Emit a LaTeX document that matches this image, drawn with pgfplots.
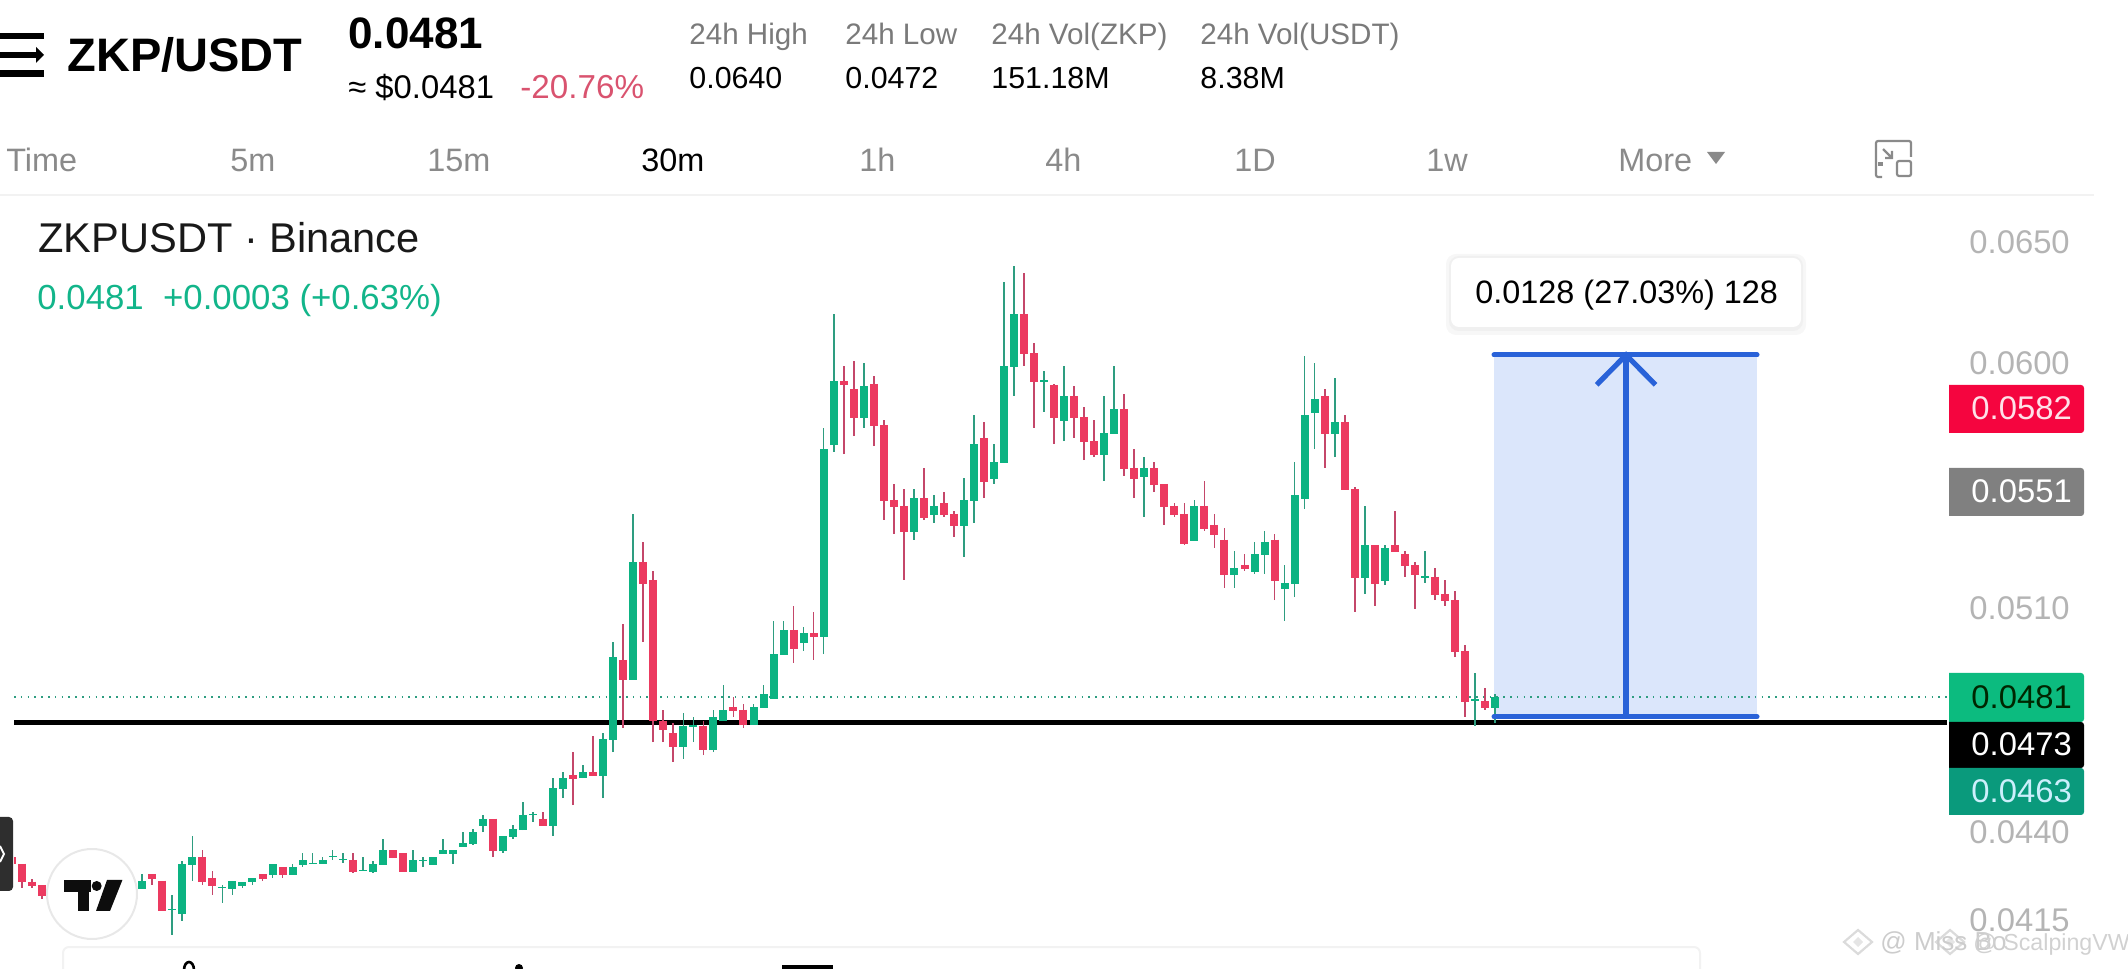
\documentclass[border=0pt]{standalone}
\usepackage{fontspec}
\setmainfont{Liberation Sans}
\usepackage{pgfplots}
\usepackage{pgfplotstable}
\pgfplotsset{compat=1.18}
\definecolor{bodyup}{HTML}{0CB382}
\definecolor{bodydn}{HTML}{EC3A60}
\definecolor{wickup}{HTML}{2E9D80}
\definecolor{wickdn}{HTML}{C4476A}
\definecolor{toolblue}{HTML}{2962D8}
\definecolor{toolfill}{HTML}{DBE6FB}
\definecolor{hdrgray}{HTML}{7A7A7A}
\definecolor{tabgray}{HTML}{8A8A8A}
\definecolor{tickgray}{HTML}{B4B4B4}
\definecolor{lastgreen}{HTML}{12B58A}
\definecolor{chgred}{HTML}{D9536F}
\definecolor{labred}{HTML}{F5053F}
\definecolor{labgreen}{HTML}{0CBB7F}
\definecolor{labteal}{HTML}{0A9A7C}
\pgfplotstableread{
x o h l c
0 0.04327 0.04327 0.04308 0.04308
1 0.04308 0.04308 0.04240 0.04257
2 0.04257 0.04265 0.04240 0.04245
3 0.04248 0.04248 0.04209 0.04217
13 0.04237 0.04279 0.04237 0.04260
14 0.04279 0.04279 0.04248 0.04265
15 0.04260 0.04260 0.04176 0.04176
16 0.04179 0.04220 0.04110 0.04181
17 0.04168 0.04316 0.04148 0.04308
18 0.04305 0.04388 0.04260 0.04327
19 0.04327 0.04347 0.04248 0.04257
20 0.04268 0.04288 0.04220 0.04245
21 0.04240 0.04248 0.04198 0.04243
22 0.04237 0.04260 0.04220 0.04260
23 0.04245 0.04257 0.04240 0.04257
24 0.04257 0.04268 0.04248 0.04268
25 0.04279 0.04279 0.04260 0.04265
26 0.04276 0.04308 0.04268 0.04308
27 0.04299 0.04299 0.04268 0.04276
28 0.04276 0.04308 0.04276 0.04299
29 0.04305 0.04339 0.04299 0.04319
30 0.04308 0.04339 0.04308 0.04310
31 0.04308 0.04327 0.04308 0.04319
32 0.04327 0.04347 0.04319 0.04330
33 0.04319 0.04339 0.04310 0.04322
34 0.04319 0.04339 0.04282 0.04285
35 0.04288 0.04327 0.04288 0.04291
36 0.04285 0.04316 0.04282 0.04308
37 0.04305 0.04379 0.04305 0.04347
38 0.04347 0.04347 0.04324 0.04324
39 0.04339 0.04339 0.04285 0.04285
40 0.04285 0.04347 0.04285 0.04319
41 0.04316 0.04327 0.04299 0.04319
42 0.04305 0.04327 0.04305 0.04327
43 0.04336 0.04379 0.04336 0.04347
44 0.04336 0.04347 0.04308 0.04347
45 0.04356 0.04399 0.04356 0.04367
46 0.04364 0.04408 0.04362 0.04399
47 0.04417 0.04449 0.04399 0.04438
48 0.04438 0.04438 0.04327 0.04344
49 0.04344 0.04388 0.04339 0.04388
50 0.04385 0.04420 0.04379 0.04408
51 0.04405 0.04487 0.04405 0.04449
52 0.04449 0.04458 0.04429 0.04452
53 0.04438 0.04458 0.04417 0.04417
54 0.04417 0.04559 0.04388 0.04529
55 0.04526 0.04578 0.04499 0.04559
56 0.04568 0.04638 0.04478 0.04556
57 0.04559 0.04599 0.04559 0.04578
58 0.04578 0.04688 0.04565 0.04565
59 0.04565 0.04697 0.04499 0.04678
60 0.04675 0.04989 0.04638 0.04939
61 0.04930 0.05049 0.04713 0.04866
62 0.04866 0.05430 0.04866 0.05260
63 0.05260 0.05330 0.04989 0.05184
64 0.05198 0.05229 0.04669 0.04735
65 0.04735 0.04770 0.04669 0.04707
66 0.04697 0.04729 0.04608 0.04653
67 0.04653 0.04760 0.04617 0.04719
68 0.04716 0.04748 0.04669 0.04722
69 0.04719 0.04735 0.04629 0.04644
70 0.04644 0.04770 0.04638 0.04748
71 0.04735 0.04849 0.04735 0.04770
72 0.04779 0.04811 0.04748 0.04766
73 0.04770 0.04788 0.04713 0.04722
74 0.04722 0.04788 0.04722 0.04779
75 0.04776 0.04849 0.04776 0.04820
76 0.04804 0.05059 0.04804 0.04949
77 0.04946 0.05059 0.04946 0.05029
78 0.05029 0.05109 0.04920 0.04965
79 0.04985 0.05039 0.04959 0.05019
80 0.05019 0.05089 0.04930 0.05005
81 0.05005 0.05748 0.04949 0.05668
82 0.05683 0.06198 0.05657 0.05930
83 0.05930 0.05989 0.05649 0.05914
84 0.05898 0.06009 0.05717 0.05786
85 0.05786 0.06001 0.05748 0.05910
86 0.05918 0.05950 0.05679 0.05756
87 0.05759 0.05779 0.05409 0.05476
88 0.05480 0.05539 0.05359 0.05455
89 0.05459 0.05520 0.05198 0.05366
90 0.05366 0.05520 0.05338 0.05487
91 0.05487 0.05598 0.05409 0.05416
92 0.05427 0.05498 0.05398 0.05459
93 0.05469 0.05509 0.05419 0.05427
94 0.05430 0.05441 0.05348 0.05387
95 0.05387 0.05561 0.05278 0.05480
96 0.05476 0.05798 0.05398 0.05687
97 0.05710 0.05771 0.05487 0.05546
98 0.05557 0.05687 0.05539 0.05620
99 0.05616 0.06331 0.05616 0.05989
100 0.05985 0.06398 0.05871 0.06198
101 0.06198 0.06368 0.05989 0.06036
102 0.06040 0.06080 0.05748 0.05926
103 0.05926 0.05969 0.05809 0.05934
104 0.05914 0.05918 0.05687 0.05786
105 0.05775 0.05989 0.05698 0.05871
106 0.05871 0.05910 0.05710 0.05786
107 0.05790 0.05828 0.05627 0.05694
108 0.05698 0.05779 0.05638 0.05646
109 0.05646 0.05871 0.05550 0.05729
110 0.05725 0.05989 0.05725 0.05821
111 0.05821 0.05879 0.05568 0.05594
112 0.05598 0.05668 0.05487 0.05557
113 0.05565 0.05638 0.05419 0.05598
114 0.05598 0.05620 0.05509 0.05535
115 0.05539 0.05539 0.05391 0.05455
116 0.05459 0.05469 0.05419 0.05427
117 0.05430 0.05469 0.05320 0.05323
118 0.05334 0.05480 0.05334 0.05459
119 0.05459 0.05550 0.05370 0.05377
120 0.05391 0.05430 0.05309 0.05355
121 0.05338 0.05380 0.05171 0.05216
122 0.05216 0.05299 0.05171 0.05240
123 0.05250 0.05288 0.05229 0.05236
124 0.05226 0.05330 0.05219 0.05288
125 0.05285 0.05370 0.05219 0.05330
126 0.05338 0.05359 0.05129 0.05195
127 0.05167 0.05250 0.05059 0.05188
128 0.05184 0.05620 0.05139 0.05498
129 0.05484 0.06028 0.05448 0.05798
130 0.05805 0.06001 0.05668 0.05859
131 0.05871 0.05898 0.05598 0.05725
132 0.05725 0.05942 0.05638 0.05771
133 0.05771 0.05798 0.05517 0.05517
134 0.05520 0.05528 0.05089 0.05205
135 0.05205 0.05459 0.05150 0.05320
136 0.05320 0.05320 0.05109 0.05184
137 0.05195 0.05320 0.05181 0.05309
138 0.05320 0.05441 0.05295 0.05295
139 0.05288 0.05299 0.05209 0.05247
140 0.05250 0.05260 0.05099 0.05216
141 0.05205 0.05299 0.05188 0.05212
142 0.05209 0.05240 0.05129 0.05146
143 0.05150 0.05198 0.05109 0.05126
144 0.05129 0.05160 0.04939 0.04956
145 0.04959 0.04979 0.04748 0.04795
146 0.04798 0.04888 0.04719 0.04804
147 0.04798 0.04839 0.04770 0.04776
148 0.04776 0.04820 0.04729 0.04811
}\candles
\newcommand\T[5]{\node[anchor=base west,inner sep=0pt,text=#4,font=\fontsize{#3}{#3}\selectfont] at (#1,#2) {#5};}
\newcommand\lab[5]{\fill[#3] (1949,#1) [rounded corners=1.5pt] -- (2084,#1) -- (2084,#2) [sharp corners] -- (1949,#2) -- cycle;
 \pgfmathsetmacro\laby{(#1+#2)/2+11}\T{1971}{\laby}{16.4}{#4}{#5}}
\begin{document}
\begin{tikzpicture}
\path[use as bounding box] (0,0) rectangle (1064pt,484pt);
\begin{axis}[
  at={(7pt,0pt)},anchor=south west,
  scale only axis,width=966.5pt,height=384pt,
  ymode=log,
  xmin=0.2,xmax=193.11,
  ymin=0.040204,ymax=0.066835,
  axis line style={draw=none},
  xtick=\empty,
  ytick={0.065,0.06,0.051,0.044,0.0415},
  yticklabels={0.0650,0.0600,0.0510,0.0440,0.0415},
  minor ytick={},
  yticklabel pos=right,
  ytick style={draw=none},
  yticklabel style={anchor=west,inner sep=0pt,xshift=11pt,text=tickgray,
    font=\fontsize{16.4}{16.4}\selectfont},
  every axis plot post/.append style={forget plot},
]
% long-position tool
\addplot[fill=toolfill,draw=none] coordinates {(147.9,0.04748)(174.15,0.04748)(174.15,0.06032)(147.9,0.06032)} -- cycle;
% last price dotted line
\addplot[draw=wickup,line width=0.7pt,dash pattern=on 0.8pt off 2.6pt] coordinates {(0.2,0.04810)(193.11,0.04810)};
% horizontal level
\addplot[draw=black,line width=2.5pt] coordinates {(0.2,0.04730)(193.11,0.04730)};
% candles
\pgfplotsinvokeforeach{0,...,139}{%
  \pgfplotstablegetelem{#1}{x}\of\candles\let\Cx\pgfplotsretval
  \pgfplotstablegetelem{#1}{o}\of\candles\let\Co\pgfplotsretval
  \pgfplotstablegetelem{#1}{h}\of\candles\let\Ch\pgfplotsretval
  \pgfplotstablegetelem{#1}{l}\of\candles\let\Cl\pgfplotsretval
  \pgfplotstablegetelem{#1}{c}\of\candles\let\Cc\pgfplotsretval
  \ifdim\Cc pt>\Co pt\def\Wc{wickup}\def\Bc{bodyup}\else\def\Wc{wickdn}\def\Bc{bodydn}\fi
  \edef\temp{%
    \noexpand\addplot[draw=\Wc,line width=0.85pt] coordinates {(\Cx,\Cl)(\Cx,\Ch)};
    \noexpand\addplot[draw=\Bc,line width=4pt] coordinates {(\Cx,\Co)(\Cx,\Cc)};
  }\temp
}
% tool lines
\addplot[draw=toolblue,line width=2.5pt,line cap=round] coordinates {(147.9,0.04748)(174.15,0.04748)};
\addplot[draw=toolblue,line width=2.5pt,line cap=round] coordinates {(147.9,0.06032)(174.15,0.06032)};
\addplot[draw=toolblue,line width=2.6pt] coordinates {(161.08,0.04748)(161.08,0.06032)};
\addplot[draw=toolblue,line width=2.6pt] coordinates {(158.14,0.05914)(161.08,0.06032)(164.02,0.05914)};
\end{axis}
\begin{scope}[shift={(0,484pt)},x=0.5pt,y=-0.5pt]
% header icon
\fill[black] (0,33) rectangle (44,39);
\fill[black] (0,70) rectangle (44,77);
\fill[black] (0,52) rectangle (36,58);
\fill[black] (36,47) -- (44,55) -- (36,63) -- cycle;
\node[anchor=base west,inner sep=0pt,font=\bfseries\fontsize{23.5}{23.5}\selectfont] at (67,72) {ZKP/USDT};
\node[anchor=base west,inner sep=0pt,font=\bfseries\fontsize{22}{22}\selectfont] at (348,49) {0.0481};
\T{348}{99}{16.4}{black}{≈ \$0.0481}
\T{520}{99}{16.6}{chgred}{-20.76\%}
\T{689}{45}{14.8}{hdrgray}{24h High}
\T{845}{45}{14.8}{hdrgray}{24h Low}
\T{991}{45}{14.8}{hdrgray}{24h Vol(ZKP)}
\T{1200}{45}{14.8}{hdrgray}{24h Vol(USDT)}
\T{689}{89}{15.2}{black}{0.0640}
\T{845}{89}{15.2}{black}{0.0472}
\T{991}{89}{15.2}{black}{151.18M}
\T{1200}{89}{15.2}{black}{8.38M}
% tabs
\T{6}{172}{16.2}{tabgray}{Time}
\T{230}{172}{16.2}{tabgray}{5m}
\T{427}{172}{16.2}{tabgray}{15m}
\T{641}{172}{16.2}{black}{30m}
\T{859}{172}{16.2}{tabgray}{1h}
\T{1045}{172}{16.2}{tabgray}{4h}
\T{1234}{172}{16.2}{tabgray}{1D}
\T{1426}{172}{16.2}{tabgray}{1w}
\T{1618}{172}{16.2}{tabgray}{More}
\fill[tabgray] (1707,152) -- (1725,152) -- (1716,164) -- cycle;
% expand icon
\draw[tabgray,line width=1.1pt,rounded corners=1pt] (1882,177) -- (1876,177) -- (1876,141) -- (1911,141) -- (1911,157);
\draw[tabgray,line width=1.1pt,rounded corners=1pt] (1897,161) rectangle (1911,176);
\draw[tabgray,line width=1.1pt] (1883,149) -- (1892,158) (1892,151) -- (1892,158) -- (1885,158);
\fill[tabgray] (1878,162) rectangle (1883,166);
\draw[black!5,line width=1pt] (0,195) -- (2094,195);
% chart heading
\T{38}{253}{20.8}{black!90}{ZKPUSDT · Binance}
\T{37}{310}{17.4}{lastgreen}{0.0481\ \ +0.0003 (+0.63\%)}
% tooltip
\fill[black!3,rounded corners=5pt] (1446,254) rectangle (1806,335);
\fill[black!6,rounded corners=5pt] (1449,256) rectangle (1803,331);
\fill[white,rounded corners=4pt] (1451,258) rectangle (1801,327);
\T{1475}{304}{16.2}{black}{0.0128 (27.03\%) 128}
% price labels
\lab{385}{433}{labred}{white!88!labred}{0.0582}
\lab{468}{516}{black!50}{white}{0.0551}
\lab{673}{722}{labgreen}{black!85!green}{0.0481}
\lab{722}{768}{black}{white}{0.0473}
\lab{768}{815}{labteal}{white!80!cyan}{0.0463}
% logo
\fill[white] (92,894) circle (22.5pt);
\draw[black!9,line width=1pt] (92,894) circle (22.5pt);
\fill[black!95] (64,880) rectangle (91,892);
\fill[black!95] (77.5,892) rectangle (89,911);
\fill[black!95] (96.7,886) circle (2.5pt);
\fill[black!95] (107,880) -- (122.4,880) -- (110,911) -- (96,911) -- cycle;
% side handle
\fill[black!82,rounded corners=2pt] (-10,817) rectangle (13,891);
\draw[white,line width=1pt] (0,846) -- (4,854) -- (0,862);
% bottom card
\draw[black!5,line width=1pt,rounded corners=3pt] (63,975) -- (63,947) -- (1700,947) -- (1700,975);
\draw[black,line width=1.3pt] (184,970) arc[start angle=180,end angle=0,x radius=2.5pt,y radius=4pt];
\fill[black] (519,968) circle (2pt);
\fill[black] (782,965) rectangle (833,970);
% watermark
\foreach \ix in {1858,1950}{
  \draw[black!14,line width=1.1pt] (\ix,930) -- (\ix+14,942) -- (\ix,954) -- (\ix-14,942) -- cycle;
  \fill[black!10] (\ix,937) -- (\ix+5,942) -- (\ix,947) -- (\ix-5,942) -- cycle;
}
\T{1880}{950}{13}{black!20}{@ Miss Bo}
\T{1973}{950}{11.6}{black!18}{@ ScalpingVW}
\end{scope}
\end{tikzpicture}
\end{document}
